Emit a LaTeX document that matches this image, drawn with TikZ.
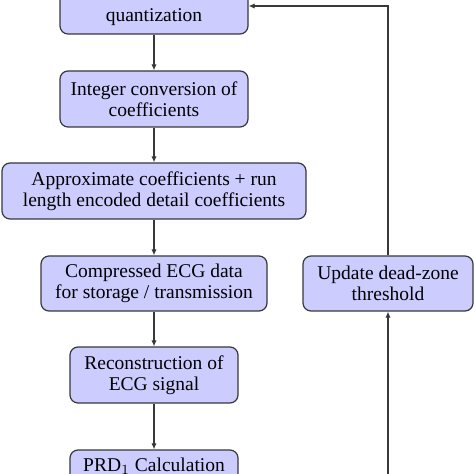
\documentclass[tikz,border=0pt]{standalone}
\usepackage{fontspec}
\setmainfont{Liberation Serif}
\usetikzlibrary{arrows.meta}
\definecolor{boxfill}{RGB}{204,204,255}
\definecolor{boxline}{RGB}{55,55,60}
\tikzset{
  procbox/.style={draw=boxline, fill=boxfill, line width=0.6pt, rounded corners=4pt,
    align=center, inner sep=0pt, font=\fontsize{9.75pt}{10.4pt}\selectfont},
  flow/.style={draw=boxline, line width=0.55pt, -{Latex[length=3pt,width=2.6pt]}}
}
\begin{document}
\begin{tikzpicture}[x=0.5pt,y=-0.5pt]
\useasboundingbox (0,0) rectangle (474,474);
\clip (0,0) rectangle (474,474);
\node[procbox, minimum width=94pt, minimum height=28pt] (b1) at (154,6) {\strut\\quantization};
\node[procbox, minimum width=94pt, minimum height=28pt] (b2) at (154,99) {Integer conversion of\\coefficients};
\node[procbox, minimum width=152pt, minimum height=28pt] (b3) at (154,191) {Approximate coefficients + run\\length encoded detail coefficients};
\node[procbox, minimum width=113pt, minimum height=27.5pt] (b4) at (154,283.5) {Compressed ECG data\\for storage / transmission};
\node[procbox, minimum width=85pt, minimum height=27.5pt] (b5) at (388,283.5) {Update dead-zone\\threshold};
\node[procbox, minimum width=84pt, minimum height=28pt] (b6) at (154,375) {Reconstruction of\\ECG signal};
\node[procbox, minimum width=84pt, minimum height=28pt] (b7) at (154,478) {PRD$_1$ Calculation\\\strut};
\coordinate (in5) at (388,480);
\draw[flow] (b1) -- (b2);
\draw[flow] (b2) -- (b3);
\draw[flow] (b3) -- (b4);
\draw[flow] (b4) -- (b6);
\draw[flow] (b6) -- (b7);
\draw[flow] (b5.north) |- (b1.east);
\draw[flow] (in5) -- (b5.south);
\end{tikzpicture}
\end{document}
